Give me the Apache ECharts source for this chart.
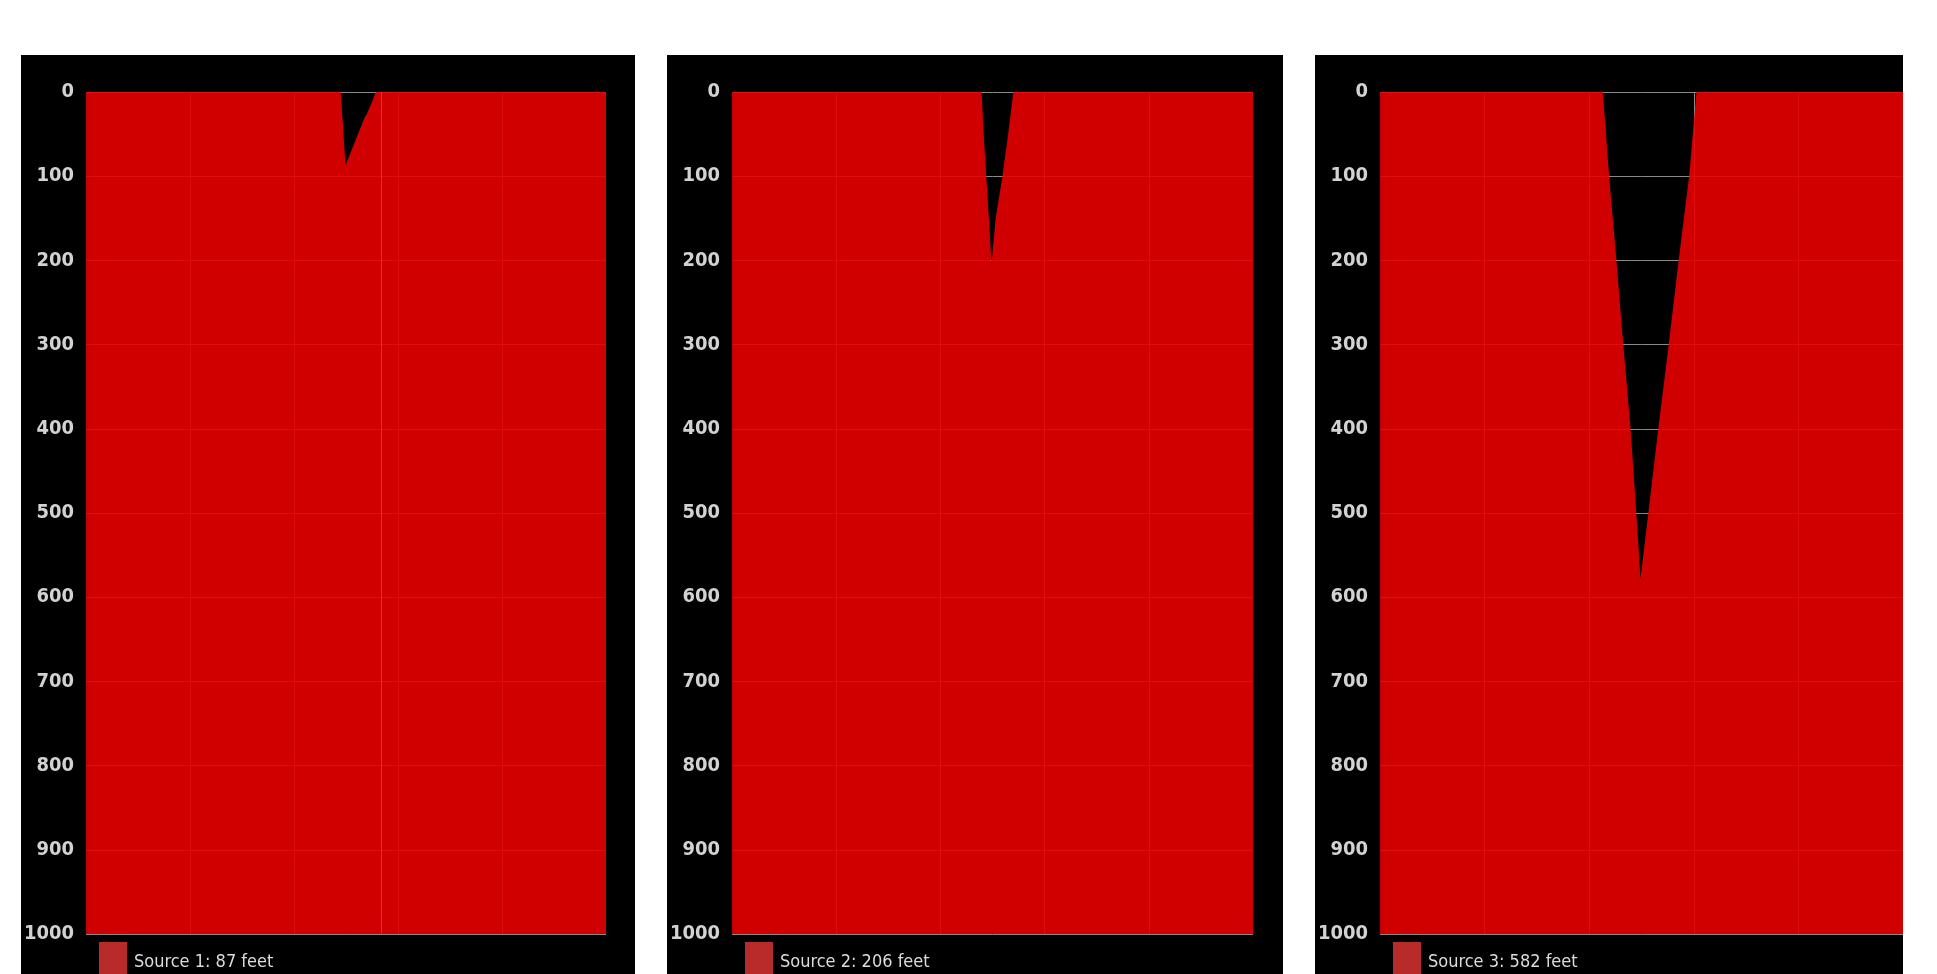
<!DOCTYPE html>
<html>
<head>
<meta charset="utf-8">
<script src="https://cdn.jsdelivr.net/npm/echarts@6/dist/echarts.min.js"></script>
<style>
  html, body { margin: 0; padding: 0; background: #ffffff; width: 1937px; height: 974px; overflow: hidden; }
  .panel { position: absolute; top: 55px; height: 919px; background: #000000; }
</style>
</head>
<body>
<div id="p1" class="panel" style="left:21px;width:614px;"></div>
<div id="p2" class="panel" style="left:667px;width:616px;"></div>
<div id="p3" class="panel" style="left:1315px;width:588px;"></div>
<script>
// ---- data (x position across the section, 0..100; depth in feet) ----
const depthTicks = [0, 100, 200, 300, 400, 500, 600, 700, 800, 900, 1000];

const source1Name = 'Source 1: 87 feet';
const source1X     = [0, 49.0, 49.4, 49.9, 53.6, 54.0, 55.0, 55.7, 100];
const source1Depth = [0, 0,    40,   87,   30,   26,   12,   0,    0];
const source1Seam  = [56.7];

const source2Name = 'Source 2: 206 feet';
const source2X     = [0, 47.9, 48.3, 48.8, 49.3, 49.8, 50.6, 51.9, 53.0, 54.0, 100];
const source2Depth = [0, 0,    50,   100,  150,  204,  150,  100,  50,   0,    0];

const source3Name = 'Source 3: 582 feet';
const source3X     = [0, 42.6, 43.8, 45.2, 46.5, 47.9, 49.0, 49.8, 51.3, 53.2, 55.2, 57.1, 59.1, 60.5, 100];
const source3Depth = [0, 0,    100,  200,  300,  400,  500,  578,  500,  400,  300,  200,  100,  0,    0];

const labelFont = "'Liberation Sans Narrow', 'DejaVu Sans Condensed', Roboto, sans-serif";

function buildOption(name, xs, depths, seams, rightPad) {
  const pts = xs.map((x, i) => [x, depths[i]]);
  const series = {
    name: name,
    type: 'line',
    data: pts,
    symbol: 'none',
    smooth: false,
    lineStyle: { width: 0, color: 'rgba(231,0,0,0.9)' },
    itemStyle: { color: '#b92b2b' },
    areaStyle: { color: 'rgba(231,0,0,0.9)', origin: 'end', opacity: 1 },
    silent: true
  };
  if (seams && seams.length) {
    series.markLine = {
      silent: true,
      symbol: 'none',
      label: { show: false },
      lineStyle: { color: 'rgba(255,160,160,0.3)', width: 1, type: 'solid' },
      data: seams.map(v => ({ xAxis: v }))
    };
  }
  return {
    animation: false,
    backgroundColor: '#000000',
    grid: { left: 64, right: rightPad, top: 37, bottom: 40, containLabel: false },
    legend: {
      left: 73,
      top: 882,
      itemWidth: 28,
      itemHeight: 40,
      itemGap: 10,
      icon: 'rect',
      data: [{ name: name, itemStyle: { color: '#b92b2b' } }],
      textStyle: { color: '#dcdcdc', fontSize: 18, fontFamily: labelFont, padding: [0, 0, 0, 2] }
    },
    xAxis: {
      type: 'value',
      min: 0,
      max: 100,
      interval: 20,
      axisLine: { show: false },
      axisTick: { show: false },
      axisLabel: { show: false },
      splitLine: { show: true, showMinLine: false, showMaxLine: false, lineStyle: { color: '#8a8a8a', width: 1 } }
    },
    yAxis: {
      type: 'value',
      inverse: true,
      min: depthTicks[0],
      max: depthTicks[depthTicks.length - 1],
      interval: depthTicks[1] - depthTicks[0],
      axisLine: { show: false },
      axisTick: { show: false },
      axisLabel: {
        color: '#d2d2d2', fontSize: 20, fontWeight: 'bold', fontFamily: labelFont, margin: 12,
        formatter: v => String(v)
      },
      splitLine: { show: true, lineStyle: { color: '#8a8a8a', width: 1 } }
    },
    series: [series]
  };
}

const c1 = echarts.init(document.getElementById('p1'));
c1.setOption(buildOption(source1Name, source1X, source1Depth, source1Seam, 29));
const c2 = echarts.init(document.getElementById('p2'));
c2.setOption(buildOption(source2Name, source2X, source2Depth, [], 30));
const c3 = echarts.init(document.getElementById('p3'));
c3.setOption(buildOption(source3Name, source3X, source3Depth, [], 0));
</script>
</body>
</html>
